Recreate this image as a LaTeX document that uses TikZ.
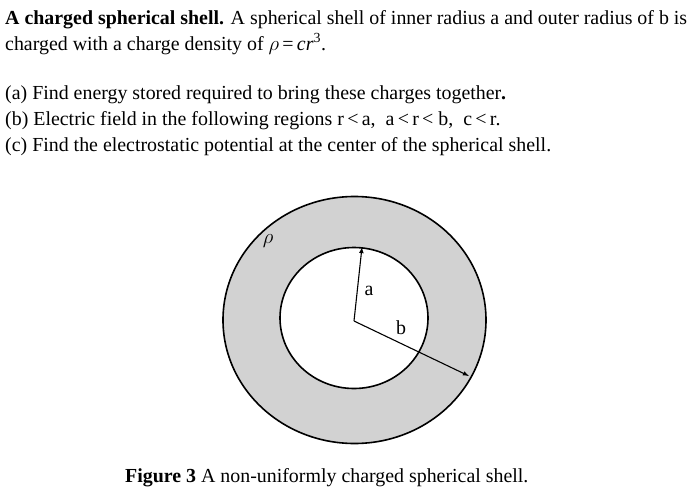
\documentclass[tikz,border=0pt]{standalone}
\usepackage{fontspec}
\setmainfont{Liberation Serif}
\begin{document}
\begin{tikzpicture}[x=1pt,y=-1pt,
  txt/.style={anchor=base west,inner sep=0pt,font=\fontsize{19.9}{22}\selectfont},
  ring/.style={draw=black,line width=1.6pt},
  arr/.style={-latex,line width=1.1pt}]
\useasboundingbox (0,0) rectangle (689,493);
\node[txt] (l1) at (5,24) {\textbf{A charged spherical shell.} A spherical shell of inner radius a and outer radius of b is};
\node[txt] (l2) at (5,50) {charged with a charge density of $\rho$\,=\,\textit{cr}\textsuperscript{3}.};
\node[txt] (la) at (5,99) {(a) Find energy stored required to bring these charges together\textbf{.}};
\node[txt] (lb) at (5,125) {(b) Electric field in the following regions r\,<\,a,\ \ a\,<\,r\,<\ b,\ \ c\,<\,r.};
\node[txt] (lc) at (5,151) {(c) Find the electrostatic potential at the center of the spherical shell.};
\fill[gray!35,ring] (354.5,320) ellipse [x radius=131.5,y radius=123.5];
\fill[white,ring] (354,318) ellipse [x radius=74,y radius=70.5];
\coordinate (o) at (354,321);
\coordinate (ta) at (362,247);
\coordinate (tb) at (469,376);
\draw[arr] (o) -- (ta);
\draw[arr] (o) -- (tb);
\node[font=\fontsize{19.9}{20}\selectfont] (a) at (369,291) {a};
\node[font=\fontsize{19.9}{20}\selectfont] (b) at (401,328) {b};
\node[font=\fontsize{22}{22}\selectfont] (rho) at (268,241) {$\rho$};
\node[txt] (cap) at (125,482) {\textbf{Figure 3} A non-uniformly charged spherical shell.};
\end{tikzpicture}
\end{document}
